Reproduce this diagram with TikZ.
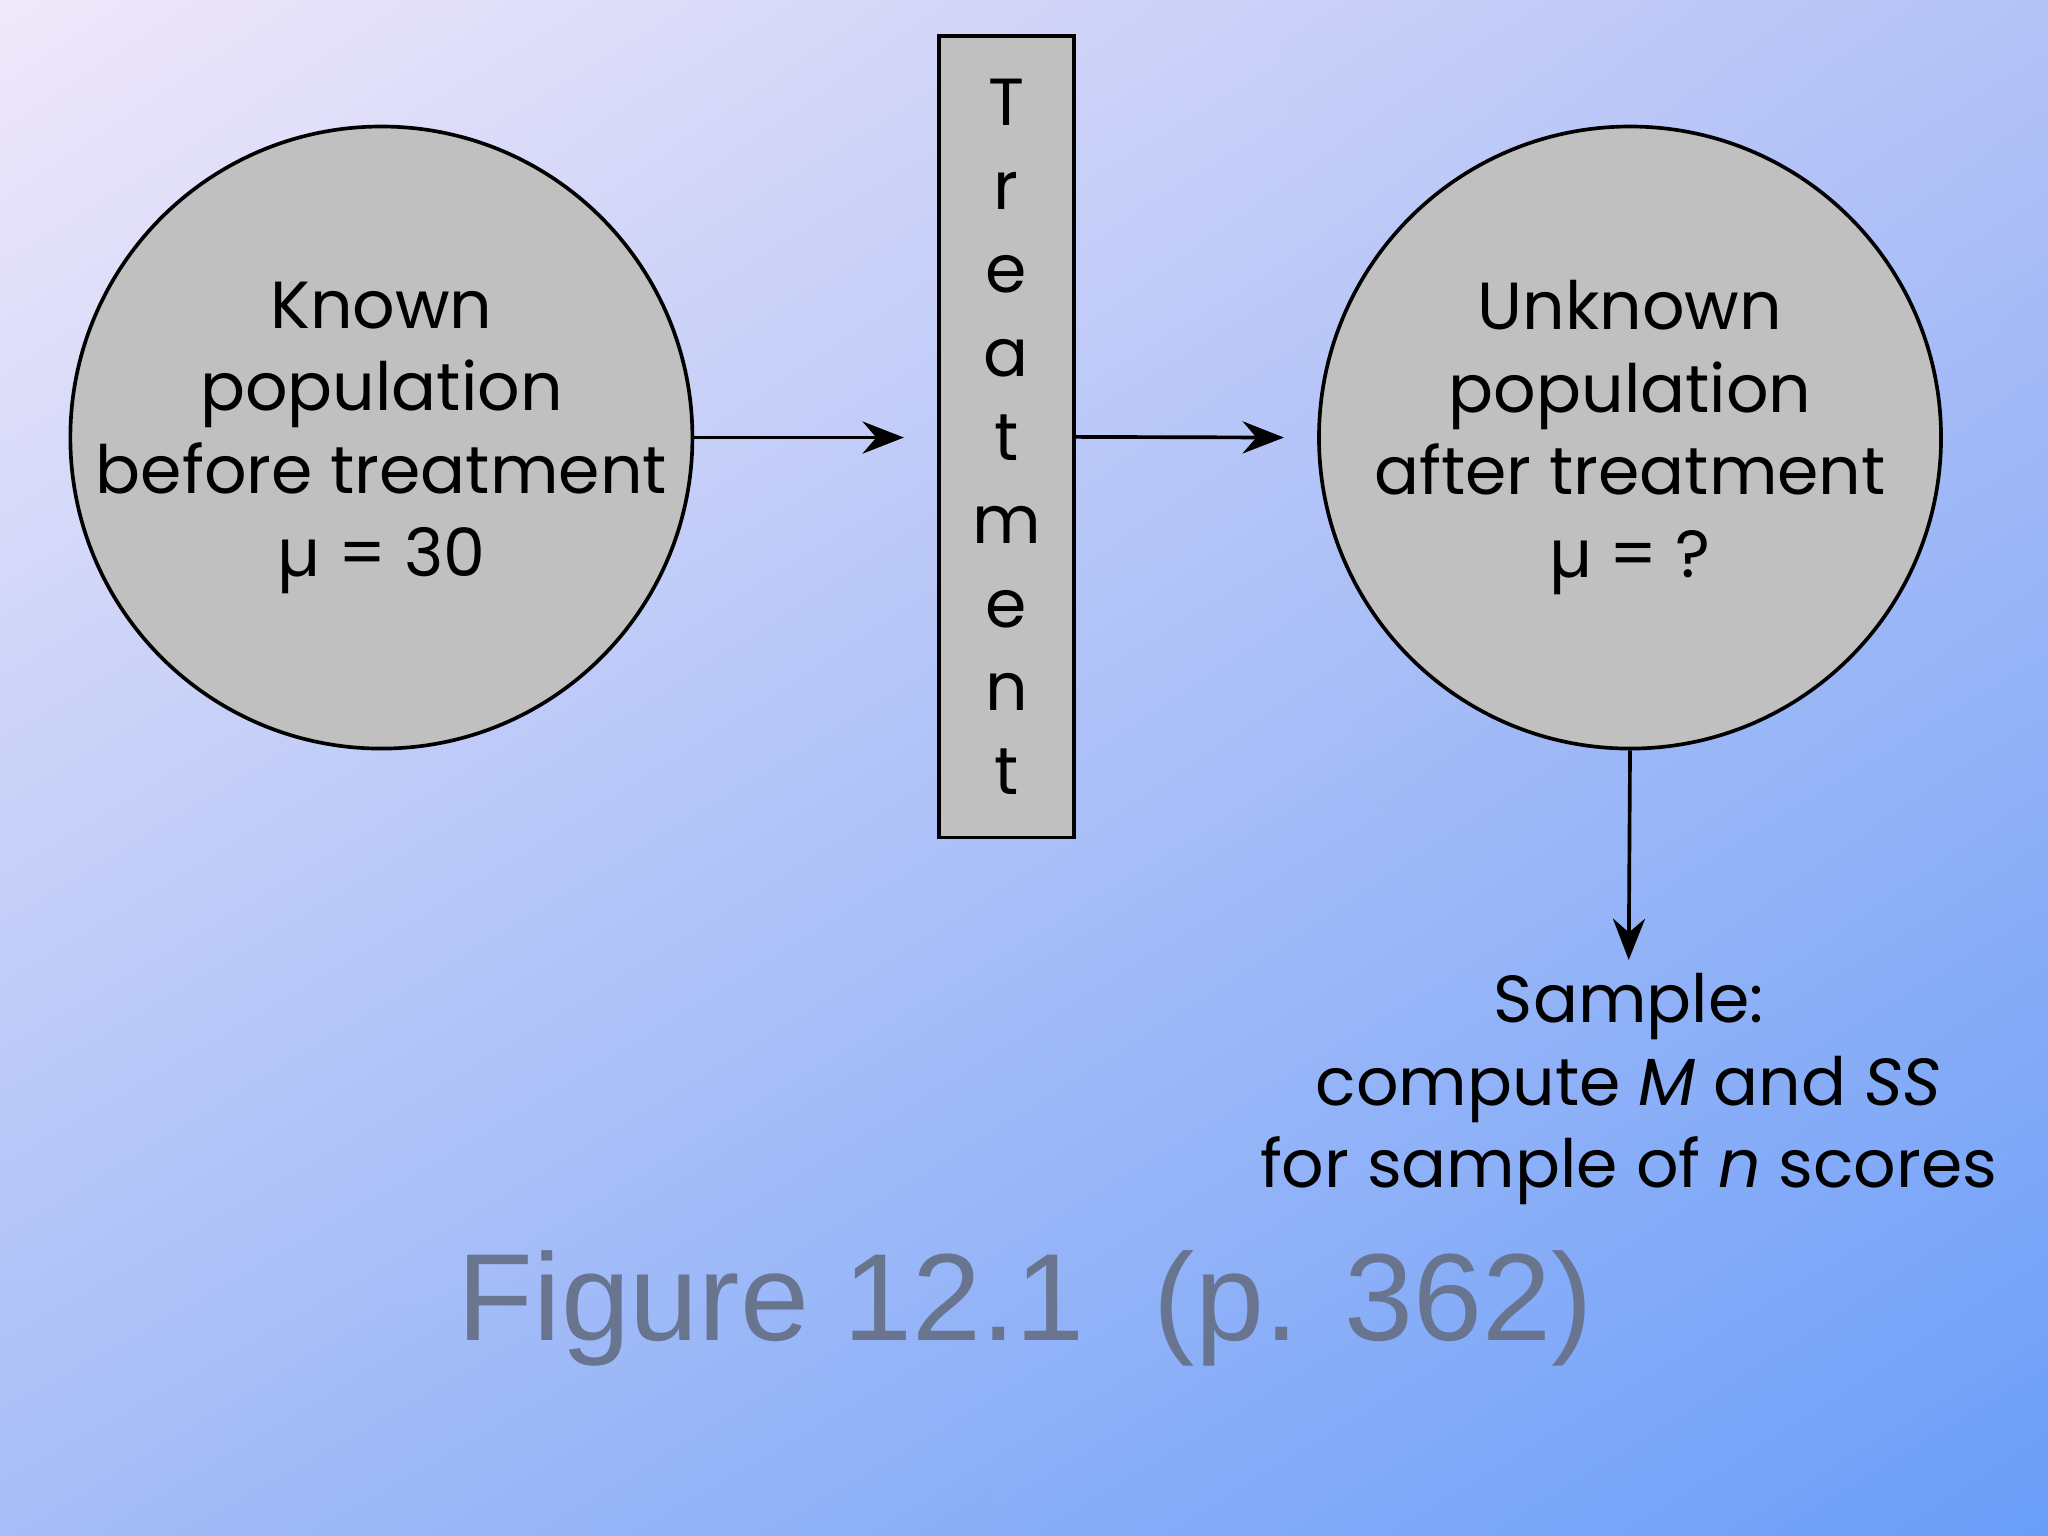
\documentclass[tikz,border=0pt]{standalone}
\usepackage{fontspec}
\setmainfont{Poppins}
\newfontfamily\capfont{Liberation Sans}
\usetikzlibrary{positioning,shadings,arrows.meta}
\definecolor{bgul}{HTML}{F0E8FA}
\definecolor{bgur}{HTML}{B4C2F6}
\definecolor{bgll}{HTML}{A6BDF7}
\definecolor{bglr}{HTML}{6A9EF8}
\definecolor{popfill}{HTML}{C0C0C0}
\definecolor{capgray}{HTML}{69758F}
\tikzset{
  population/.style={circle, draw, thick, fill=popfill, minimum size=4.76cm, inner sep=-60pt,
    align=center, font=\fontsize{14.5}{18}\selectfont},
  treatbox/.style={rectangle, draw, thick, fill=popfill, minimum width=1.03cm, minimum height=6.13cm,
    inner sep=0pt, align=center, font=\fontsize{14.5}{18.2}\selectfont},
  flow/.style={thick, -{Stealth[length=9pt,width=7pt,inset=3pt]}},
}
\begin{document}
\begin{tikzpicture}[x=0.01cm, y=-0.01cm]
  \shade[upper left=bgul, upper right=bgur, lower left=bgll, lower right=bglr] (0,0) rectangle (1568,1176);
  \useasboundingbox (0,0) rectangle (1568,1176);
  % populations and treatment
  \node[population] (known) at (292,335) {Known\\population\\before treatment\\µ = 30};
  \node[treatbox] (treat) at (770.5,334.5) {T\\r\\e\\a\\t\\m\\e\\n\\t};
  \node[population] (unknown) at (1248,335) {Unknown\\population\\after treatment\\µ = ?};
  \node[align=center, font=\fontsize{14.5}{18}\selectfont] (sample) at (1247,834)
    {Sample:\\ compute \emph{M} and \emph{SS}\\for sample of \emph{n} scores};
  \coordinate (a1) at (692,335);
  \coordinate (a2) at (983,335);
  \coordinate (a3) at (1247,735);
  \draw[flow] (known.east) -- (a1);
  \draw[flow] (treat.east) -- (a2);
  \draw[flow] (unknown.south) -- (a3);
  % caption
  \node[font=\capfont\fontsize{27}{32}\selectfont, text=capgray] (caption) at (785,1002) {Figure 12.1\ \ (p. 362)};
\end{tikzpicture}
\end{document}
